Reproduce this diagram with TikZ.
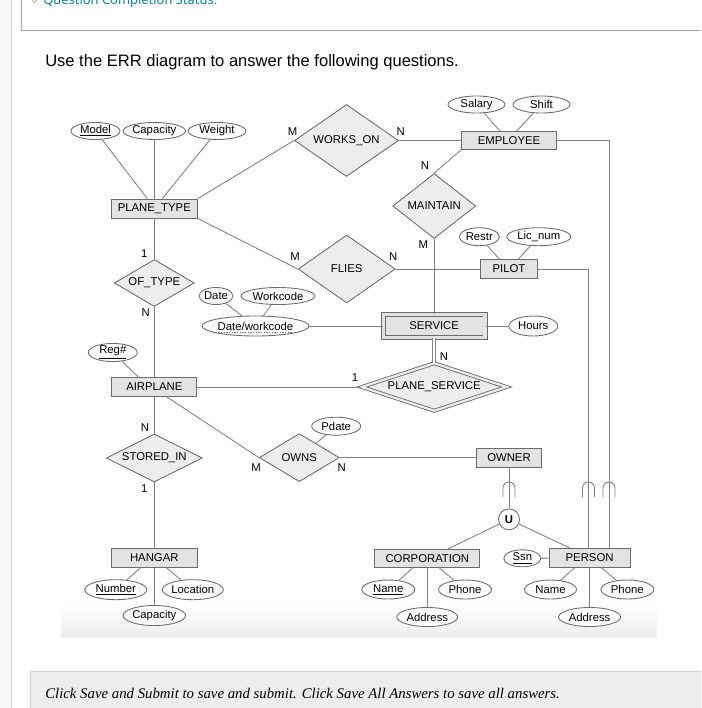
\documentclass[tikz,border=0pt]{standalone}
\usepackage{fontspec}
\setmainfont{Liberation Sans}
\newfontfamily\notefont{Liberation Serif}
\newfontfamily\statusfont{Noto Sans}
\usetikzlibrary{shapes.geometric}
\definecolor{qteal}{RGB}{12,130,152}
\begin{document}
\begin{tikzpicture}[
  x=0.75pt, y=-0.75pt,
  font=\fontsize{8.5}{10}\selectfont,
  ent/.style={draw=black!58,fill=black!11,line width=0.65pt,inner sep=0pt,minimum height=14.25pt},
  rel/.style={diamond,draw=black!58,fill=black!7,line width=0.65pt,inner sep=0pt},
  attr/.style={ellipse,draw=black!58,fill=white,line width=0.65pt,inner sep=0pt,minimum height=12.75pt},
  conn/.style={draw=black!50,line width=0.65pt},
  card/.style={inner sep=0pt},
]
\useasboundingbox (0,0) rectangle (701,708);
\clip (0,0) rectangle (701,708);

% ---- Page around the figure
\fill[black!3] (0,0) rectangle (11,708);
\draw[black!15] (11,0) -- (11,708);
\draw[black!35] (21,0) -- (21,30) -- (701,30);
\draw[black!40] (32,0) -- (34.5,3) -- (37,0);
\node[anchor=base west,inner sep=0pt,text=qteal,font=\statusfont\bfseries\fontsize{9.7}{12}\selectfont] (status) at (43,4.5) {Question Completion Status:};
\node[anchor=west,inner sep=0pt,font=\fontsize{12.4}{14}\selectfont] (intro) at (45,62) {Use the ERR diagram to answer the following questions.};
\shade[top color=white,bottom color=black!7] (61,603) rectangle (657,637);
\fill[black!7] (30,671) rectangle (701,708);
\draw[black!18] (30,708) -- (30,671) -- (701,671);
\node[anchor=west,inner sep=0pt,font=\notefont\itshape\fontsize{11.1}{13}\selectfont] (note) at (45,693) {Click Save and Submit to save and submit. Click Save All Answers to save all answers.};

% ---- Entities
\node[ent,minimum width=64.5pt] (ptype) at (154.3,208.5) {PLANE\_TYPE};
\node[ent,minimum width=71.25pt,minimum height=13.5pt] (employee) at (509,140.5) {EMPLOYEE};
\node[ent,minimum width=42.75pt] (pilot) at (509,269) {PILOT};
\node[ent,double=black!11,double distance=2.4pt,minimum width=76.3pt,minimum height=17.5pt] (service) at (434.2,326) {SERVICE};
\node[ent,minimum width=63.75pt] (airplane) at (154.3,387) {AIRPLANE};
\node[ent,minimum width=48.75pt] (owner) at (509,457.6) {OWNER};
\node[ent,minimum width=64.5pt] (hangar) at (154.3,557.8) {HANGAR};
\node[ent,minimum width=78.75pt,minimum height=13.5pt] (corp) at (427.3,558.3) {CORPORATION};
\node[ent,minimum width=60.75pt] (person) at (589.6,557.8) {PERSON};

% ---- Relationships
\node[rel,minimum width=78pt,minimum height=54pt,aspect=1.44] (workson) at (346.5,140.5) {WORKS\_ON};
\node[rel,minimum width=62.25pt,minimum height=48.75pt,aspect=1.28] (maintain) at (434.2,206) {MAINTAIN};
\node[rel,minimum width=72.75pt,minimum height=51pt,aspect=1.43] (flies) at (346.7,269) {FLIES};
\node[rel,minimum width=60pt,minimum height=35.25pt,aspect=1.7] (oftype) at (154.3,283) {OF\_TYPE};
\node[rel,double=black!7,double distance=1.65pt,minimum width=109pt,minimum height=35.9pt,aspect=3.04] (pserv) at (434.2,387) {PLANE\_SERVICE};
\node[rel,minimum width=72pt,minimum height=36pt,aspect=2] (stored) at (154.3,458) {STORED\_IN};
\node[rel,minimum width=60pt,minimum height=36pt,aspect=1.67] (owns) at (299.3,457.6) {OWNS};

% ---- Attributes
\node[attr,minimum width=36.75pt] (model) at (95.5,131) {\underline{Model}};
\node[attr,minimum width=45pt] (pcap) at (154.3,131) {Capacity};
\node[attr,minimum width=43.5pt] (weight) at (217,131) {Weight};
\node[attr,minimum width=42.75pt] (salary) at (476.5,104.5) {Salary};
\node[attr,minimum width=42.75pt] (shift) at (541.5,104.5) {Shift};
\node[attr,minimum width=30pt,minimum height=13.5pt] (restr) at (479.3,236.7) {Restr};
\node[attr,minimum width=48pt,minimum height=13.5pt] (licnum) at (538.8,236.7) {Lic\_num};
\node[attr,minimum width=24.75pt] (date) at (216,296) {Date};
\node[attr,minimum width=55.5pt] (wcode) at (278,296) {Workcode};
\node[attr,minimum width=79.5pt,minimum height=15pt] (dwcode) at (255.5,326) {Date/workcode};
\node[attr,minimum width=36.75pt,minimum height=15pt] (hours) at (533.3,326) {Hours};
\node[attr,minimum width=36.75pt,minimum height=13.5pt] (reg) at (112.8,352.5) {\underline{Reg\#}};
\node[attr,minimum width=36.75pt,minimum height=13.5pt] (pdate) at (336.2,426.2) {Pdate};
\node[attr,minimum width=46.5pt,minimum height=15pt] (hnum) at (115.8,589.7) {\underline{Number}};
\node[attr,minimum width=45.75pt,minimum height=15pt] (hloc) at (192.8,589.7) {Location};
\node[attr,minimum width=46.5pt,minimum height=15pt] (hcap) at (154.3,615.5) {Capacity};
\node[attr,minimum width=39.75pt,minimum height=14.25pt] (cname) at (388.3,589.5) {\underline{Name}};
\node[attr,minimum width=39.75pt,minimum height=14.25pt] (cphone) at (465,589.5) {Phone};
\node[attr,minimum width=45.75pt,minimum height=14.25pt] (caddr) at (427.3,617) {Address};
\node[attr,minimum width=27.75pt] (ssn) at (522.3,558.3) {\underline{Ssn}};
\node[attr,minimum width=39pt,minimum height=14.25pt] (pname) at (550.5,589.5) {Name};
\node[attr,minimum width=39.75pt,minimum height=14.25pt] (pphone) at (627.3,589.5) {Phone};
\node[attr,minimum width=46.5pt,minimum height=14.25pt] (paddr) at (589.6,617) {Address};
\draw[black!55,line width=0.4pt,dash pattern=on 1.2pt off 0.8pt] ([xshift=-28pt,yshift=-1.6pt]dwcode.base) -- ([xshift=28pt,yshift=-1.6pt]dwcode.base);

% ---- Union of OWNER
\node[circle,draw=black!58,fill=white,line width=0.65pt,minimum size=15.75pt,inner sep=0pt,font=\fontsize{8.5}{10}\selectfont\bfseries] (uni) at (509,519.3) {U};

% ---- Links
\draw[conn] (model) -- ([xshift=-5.25pt]ptype.north);
\draw[conn] (pcap) -- (ptype);
\draw[conn] (weight) -- ([xshift=6pt]ptype.north);
\draw[conn] (ptype.north east) -- (workson.west);
\draw[conn] (ptype.south east) -- (flies.west);
\draw[conn] (ptype) -- (oftype);
\draw[conn] (oftype) -- (airplane);
\draw[conn] (workson.east) -- (employee.west);
\draw[conn] (salary) -- ([xshift=-6.75pt]employee.north);
\draw[conn] (shift) -- ([xshift=5.75pt]employee.north);
\draw[conn] (employee.south west) -- (maintain.north);
\draw[conn] (employee.east) -| ([xshift=14.55pt]person.north);
\draw[conn] (maintain) -- (service);
\draw[conn] (flies.east) -- (pilot.west);
\draw[conn] (restr) -- ([xshift=-7.25pt]pilot.north);
\draw[conn] (licnum) -- ([xshift=7pt]pilot.north);
\draw[conn] (pilot.east) -| ([xshift=-0.8pt]person.north);
\draw[conn] (date) -- (dwcode);
\draw[conn] (wcode) -- (dwcode);
\draw[conn] (dwcode) -- (service);
\draw[conn] (service) -- (hours);
\draw[conn,double=white,double distance=1.5pt] (service) -- (pserv);
\draw[conn] (airplane) -- (pserv);
\draw[conn] (reg) -- ([xshift=-12pt]airplane.north);
\draw[conn] (airplane) -- (stored);
\draw[conn] ([xshift=9.4pt]airplane.south) -- (owns.west);
\draw[conn] (pdate) -- (owns);
\draw[conn] (owns) -- (owner);
\draw[conn] (stored) -- (hangar);
\draw[conn] (hnum) -- ([xshift=-10.35pt]hangar.south);
\draw[conn] (hloc) -- ([xshift=9.15pt]hangar.south);
\draw[conn] (hangar) -- (hcap);
\draw[conn] (owner) -- (uni);
\draw[conn] (uni) -- ([xshift=15.6pt]corp.north);
\draw[conn] (uni) -- ([xshift=-15pt]person.north);
\draw[conn] (ssn) -- (person);
\draw[conn] (cname) -- ([xshift=-10.65pt]corp.south);
\draw[conn] (cphone) -- ([xshift=8.85pt]corp.south);
\draw[conn] (corp) -- (caddr);
\draw[conn] (pname) -- ([xshift=-11.25pt]person.south);
\draw[conn] (pphone) -- ([xshift=8.8pt]person.south);
\draw[conn] (person) -- (paddr);

% ---- Subset marks
\foreach \sx in {509,588.5,609}
  \draw[conn] ({\sx-6},497) -- ({\sx-6},488) arc[start angle=180,end angle=0,radius=4.5pt] -- ({\sx+6},497);

% ---- Cardinalities
\node[card] (cwl) at (292.7,131.7) {M};
\node[card] (cwr) at (400.7,131.7) {N};
\node[card] (cmt) at (425,166) {N};
\node[card] (cmb) at (423.3,244.7) {M};
\node[card] (cfl) at (295,256.7) {M};
\node[card] (cfr) at (393.3,256.7) {N};
\node[card] (cot) at (144.3,254) {1};
\node[card] (cob) at (145.7,312.7) {N};
\node[card] (cpl) at (355,377.5) {1};
\node[card] (cpt) at (444,356.7) {N};
\node[card] (cst) at (145,427.7) {N};
\node[card] (csb) at (144.3,488.3) {1};
\node[card] (cnl) at (256,467.3) {M};
\node[card] (cnr) at (341.7,467.3) {N};

\end{tikzpicture}
\end{document}
